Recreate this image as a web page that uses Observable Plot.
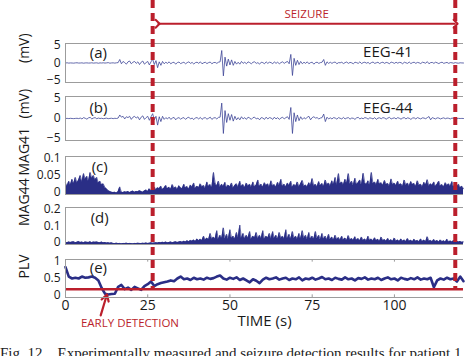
<!DOCTYPE html>
<html><head><meta charset="utf-8">
<script src="https://cdn.jsdelivr.net/npm/d3@7"></script>
<script src="https://cdn.jsdelivr.net/npm/@observablehq/plot@0.6"></script>
<style>
html,body{margin:0;padding:0;background:#fff;}
#fig{position:relative;width:474px;height:356px;overflow:hidden;background:#fff;}
#fig svg{position:absolute;left:0;background:transparent;overflow:visible;}
#caption{position:absolute;left:0;top:346px;font-family:"Liberation Serif",serif;font-size:15px;line-height:15px;white-space:nowrap;color:#222;}
</style></head><body><div id="fig"><div id="caption">Fig. 12.&nbsp;&nbsp;&nbsp;Experimentally measured and seizure detection results for patient 1</div></div>
<script>
// ---------------- data ----------------
const eegStep = 0.5;   // s between samples of EEG / MAG traces
const plvStep = 1;     // s between PLV samples
const xTicks = [0, 25, 50, 75, 100];
const seizureBounds = [26.5, 118.5];
const seizureArrow = [28, 118.6];
const plvThreshold = 0.22;
const earlyDetection = {tTail: 10.7, vTail: -0.47, tHead: 12.6, vHead: 0.08, tText: 19.6, vText: -0.68};

const eeg41 = [
0,0.05,-0.03,0.02,0,-0.04,0.03,0.06,-0.02,0,0.04,-0.05,0.02,0.03,-0.02,0,0.05,-0.03,0.02,0.04,-0.06,0.03,0,0.05,-0.02,0.03,0.1,-0.05,0.02,0.04,-0.03,0.05,0.1,
0.9,-0.2,0.4,0.1,-0.3,0.3,0.5,-0.2,0.2,0.4,-0.1,0.3,-0.4,0.2,0.5,-0.3,0.1,0.4,-0.5,0.3,
1.0,-0.4,0.6,-1.2,0.3,-0.6,0.4,-0.2,
0.2,-0.1,0.3,-0.2,0.1,0.2,-0.3,0.1,0.25,-0.15,0.05,0.2,-0.2,0.1,0.3,-0.1,0.15,-0.25,0.1,0.2,-0.1,0.3,-0.2,0.05,0.2,-0.15,0.1,0.25,-0.2,0.1,0.15,-0.1,0.2,
0.3,3.2,-3.3,1.5,-0.8,1.0,-0.5,0.8,-0.6,0.4,-0.3,
0.2,-0.3,0.4,-0.1,0.2,-0.2,0.3,0.1,-0.2,0.2,0.3,-0.1,0.1,-0.3,0.2,0.1,-0.2,0.3,-0.1,0.2,0.1,-0.2,0.3,-0.1,0.2,-0.2,0.1,0.3,-0.1,0.2,0.4,-0.2,
2.2,-3.2,1.2,-0.6,0.7,-0.4,0.4,-0.2,
0.2,-0.1,0.3,-0.2,0.1,0.2,-0.3,0.1,0.2,-0.1,0.1,0.2,
0.9,-0.6,0.3,-0.1,
0.2,-0.1,0.15,0.25,-0.2,0.1,0.05,0.2,-0.15,0.1,
0.25,-0.1,0.15,0.05,-0.2,0.2,0.1,-0.1,0.3,-0.15,
0.1,0.2,-0.05,0.15,-0.2,0.1,0.25,-0.1,0.05,0.2,
-0.15,0.1,0.2,-0.1,0.15,0.05,-0.2,0.25,0.1,-0.1,
0.2,-0.05,0.15,0.1,-0.2,0.2,0.05,-0.1,0.25,-0.15,
0.1,0.2,-0.1,0.15,0.05,-0.15,0.2,0.1,-0.05,0.35,
-0.2,0.1,0.15,-0.1,0.2,0.05,-0.15,0.1,0.2,-0.1,
0.05,0.15,-0.1,0.1,0.05,-0.05,0.1,0.0,-0.05,0.05,
0.02,0.0];

const eeg44 = [
0,0.03,-0.02,0.04,0,-0.03,0.02,0.05,-0.02,
0.1,-0.1,0.2,0.05,-0.15,0.15,0.25,-0.1,0.1,0.2,-0.05,0.1,0,
0.05,-0.05,0.03,0.08,-0.04,0.02,0.06,-0.03,0.05,0,0.1,
0.8,0.3,0.5,-0.1,0.4,0.2,0.5,-0.2,0.3,0.5,0.1,0.4,-0.3,0.3,0.6,-0.2,0.2,0.5,-0.4,0.4,
1.1,-0.3,0.5,-1.5,0.4,-0.7,0.5,-0.2,
0.2,-0.1,0.3,-0.2,0.1,0.25,-0.3,0.1,0.2,-0.15,0.1,0.2,-0.2,0.15,0.3,-0.1,0.1,-0.25,0.15,0.2,-0.1,0.25,-0.2,0.1,0.2,-0.15,0.05,0.3,-0.2,0.1,0.2,-0.1,0.25,
0.3,3.5,-3.4,1.8,-0.9,1.1,-0.4,0.9,-0.6,0.5,-0.3,
0.2,-0.3,0.4,-0.1,0.2,-0.2,0.3,0.1,-0.2,0.2,0.3,-0.1,0.1,-0.3,0.2,0.1,-0.2,0.3,-0.1,0.2,0.1,-0.2,0.3,-0.1,0.2,-0.2,0.1,0.3,-0.1,0.2,0.4,-0.2,
2.5,-3.4,1.3,-0.7,0.8,-0.5,0.4,-0.2,
0.2,-0.1,0.3,0.5,-0.3,0.2,0.4,0.1,0.2,-0.1,0.1,0.2,
1.0,-0.7,0.3,-0.1,
0.15,-0.1,0.2,0.1,-0.15,0.2,0.05,-0.1,0.25,-0.1,
0.1,0.2,-0.15,0.1,0.05,-0.2,0.15,0.25,-0.1,0.1,
-0.05,0.2,0.1,-0.15,0.15,0.05,-0.1,0.2,-0.2,0.1,
0.15,-0.05,0.2,0.1,-0.15,0.1,0.25,-0.1,0.05,0.15,
-0.1,0.2,0.05,-0.15,0.1,0.2,-0.1,0.15,0.05,-0.2,
0.1,0.15,-0.1,0.2,0.05,-0.1,0.15,0.1,-0.05,0.2,
0.45,-0.3,0.2,0.05,-0.1,0.15,0.1,-0.1,0.05,0.15,
-0.05,0.1,0.05,-0.1,0.1,0.0,0.05,-0.05,0.03,0.0,
0.02,0.0];

const mag41 = [
0.03,0.022,0.035,0.025,0.04,0.028,0.045,0.03,0.038,0.05,0.032,0.055,0.04,0.048,0.035,0.058,0.042,0.05,0.038,0.045,0.03,
0.035,0.025,0.028,0.018,0.015,0.01,0.008,0.006,
0.005,0.006,0.004,0.007,0.02,0.006,0.005,0.007,0.006,0.008,0.005,0.007,0.009,0.006,0.008,0.007,0.01,0.008,0.006,0.009,0.012,0.008,0.015,0.01,
0.014,0.02,0.012,0.018,0.015,0.022,0.013,0.017,0.024,0.015,
0.019,0.014,0.026,0.016,0.02,0.013,0.023,0.018,0.015,0.027,
0.017,0.021,0.014,0.025,0.019,0.03,0.016,0.022,0.018,0.028,
0.02,0.024,0.016,0.033,0.021,0.026,0.018,0.058,0.03,0.022,
0.035,0.019,0.027,0.021,0.032,0.018,0.025,0.02,0.03,0.017,
0.024,0.028,0.019,0.035,0.021,0.026,0.018,0.03,0.022,0.027,
0.019,0.033,0.02,0.025,0.038,0.021,0.027,0.019,0.031,0.023,
0.028,0.02,0.036,0.022,0.026,0.019,0.032,0.024,0.04,0.021,
0.027,0.02,0.03,0.023,0.035,0.019,0.026,0.022,0.033,0.02,
0.028,0.037,0.021,0.025,0.02,0.031,0.024,0.042,0.022,0.027,
0.02,0.034,0.023,0.029,0.021,0.038,0.025,0.03,0.022,0.036,
0.026,0.045,0.024,0.055,0.028,0.033,0.025,0.04,0.029,0.055,
0.027,0.035,0.024,0.043,0.026,0.031,0.038,0.025,0.056,0.03,
0.026,0.036,0.024,0.058,0.028,0.033,0.025,0.04,0.027,0.031,
0.024,0.037,0.026,0.029,0.022,0.041,0.025,0.03,0.023,0.035,
0.025,0.028,0.021,0.038,0.024,0.03,0.022,0.034,0.026,0.029,
0.021,0.036,0.024,0.027,0.02,0.032,0.025,0.039,0.022,0.028,
0.024,0.033,0.021,0.027,0.035,0.022,0.026,0.02,0.031,0.023,
0.028,0.021,0.034,0.02,0.025,0.019,0.027,0.018,0.022,0.015];

const mag44 = [
0.012,0.01,0.014,0.011,0.013,0.015,0.01,0.012,0.016,0.011,0.013,0.01,0.014,0.012,0.011,0.015,0.01,0.013,0.012,0.014,0.011,0.01,0.013,0.009,0.011,0.008,0.01,0.007,0.009,
0.006,0.005,0.007,0.005,0.006,0.004,0.006,0.005,0.007,0.005,0.006,0.005,0.004,0.006,0.005,0.007,0.006,0.005,0.007,0.006,0.008,0.006,0.007,0.009,0.007,0.008,
0.01,0.008,0.011,0.009,0.012,0.01,0.013,0.009,0.011,0.014,0.01,0.012,0.015,0.011,0.013,0.016,0.012,0.018,0.014,0.02,0.015,0.022,
0.018,0.025,0.016,0.03,0.02,0.028,0.022,0.045,0.024,0.035,
0.026,0.06,0.028,0.04,0.03,0.075,0.027,0.05,0.032,0.09,
0.03,0.055,0.028,0.08,0.033,0.045,0.029,0.065,0.035,0.105,
0.032,0.06,0.03,0.05,0.034,0.07,0.029,0.045,0.036,0.065,
0.03,0.05,0.033,0.075,0.028,0.045,0.035,0.06,0.03,0.07,
0.032,0.05,0.028,0.065,0.034,0.045,0.03,0.08,0.031,0.055,
0.029,0.07,0.033,0.045,0.028,0.06,0.03,0.075,0.032,0.05,
0.027,0.065,0.03,0.045,0.028,0.07,0.031,0.05,0.026,0.06,
0.028,0.045,0.025,0.055,0.027,0.04,0.024,0.05,0.026,0.038,
0.023,0.045,0.025,0.035,0.022,0.048,0.024,0.033,0.021,0.042,
0.023,0.032,0.02,0.04,0.022,0.03,0.019,0.045,0.021,0.03,
0.019,0.036,0.021,0.028,0.018,0.04,0.02,0.027,0.017,0.033,
0.019,0.026,0.017,0.035,0.018,0.025,0.016,0.03,0.018,0.024,
0.016,0.032,0.017,0.023,0.015,0.028,0.017,0.022,0.015,0.03,
0.016,0.024,0.015,0.042,0.017,0.022,0.015,0.027,0.016,0.021,
0.014,0.025,0.015,0.02,0.013,0.028,0.014,0.019,0.013,0.022,
0.012,0.018,0.013,0.016,0.012,0.014];

const plv = [
0.8,0.55,0.5,0.52,0.5,0.55,0.52,0.53,0.55,0.52,0.45,0.25,0.1,0.08,0.09,0.1,0.28,0.33,0.22,0.26,0.2,0.28,0.24,0.2,0.3,0.35,0.42,0.3,0.35,0.38,
0.4,0.42,0.45,0.43,0.5,0.55,0.48,0.5,0.46,0.52,0.48,0.5,0.47,0.52,0.49,0.51,0.55,0.58,0.5,0.47,0.52,0.49,0.53,0.46,0.5,0.45,0.4,0.48,0.44,0.38,
0.47,0.52,0.48,0.5,0.53,0.47,0.5,0.52,0.46,0.5,0.48,0.53,0.45,0.5,0.48,0.52,0.47,0.5,0.54,0.48,0.5,0.46,0.52,0.49,0.47,0.53,0.48,0.5,0.45,0.51,
0.49,0.53,0.47,0.5,0.48,0.52,0.46,0.5,0.53,0.48,0.5,0.45,0.52,0.49,0.47,0.51,0.48,0.53,0.47,0.5,0.48,0.52,0.27,0.45,0.5,0.47,0.52,0.48,0.5,0.42,
0.55,0.43];

// ---------------- layout / style ----------------
const W = 474, ML = 65, MR = 11;
const xDomain = [0, 121];
const FONT = '"Open Sans", sans-serif';
const NAVY = "#2a2e86", EEGC = "#3d4597", RED = "#bb1f2c", FRAME = "#9c9c9c", INK = "#1a1a1a";
const fig = document.getElementById("fig");
const fmt = d => d < 0 ? "\u2212" + (-d) : String(d);
const tEEG = (d, i) => i * eegStep;
const tPLV = (d, i) => i * plvStep;

function panel({frameTop, frameH, mt = 10, mb = 10, yDomain, yTicks, yTitle, label, labelPos, marks, xAxis = false}) {
  const [y0, y1] = yDomain;
  const tickLen = (y1 - y0) * 0.07;
  const yAxisOpts = {tickSize: 0, tickPadding: 5, tickFormat: fmt, label: null, fontSize: 12};
  const svg = Plot.plot({
    width: W, height: frameH + mt + mb,
    marginLeft: ML, marginRight: MR, marginTop: mt, marginBottom: mb,
    x: xAxis ? {domain: xDomain} : {domain: xDomain, axis: null},
    y: {domain: yDomain},
    style: {background: "transparent", fontFamily: FONT, fontSize: "12px", color: INK, overflow: "visible"},
    marks: [
      ...marks,
      // box: top, bottom and left edges
      Plot.ruleY([y0, y1], {stroke: FRAME, strokeWidth: 1}),
      Plot.ruleX([xDomain[0]], {stroke: FRAME, strokeWidth: 1}),
      // y tick labels; the end labels are nudged inward so neighbouring panels do not collide
      Plot.axisY({...yAxisOpts, ticks: [yTicks[0]], dy: -2}),
      Plot.axisY({...yAxisOpts, ticks: yTicks.slice(1, -1)}),
      Plot.axisY({...yAxisOpts, ticks: [yTicks[yTicks.length - 1]], dy: 2}),
      Plot.text([yTitle], {frameAnchor: "left", dx: -41, rotate: -90, fontSize: 14, fill: INK}),
      Plot.text([label], {x: labelPos[0], y: labelPos[1], fontSize: 15, fill: INK}),
      ...(xAxis ? [
        Plot.axisX({ticks: xTicks, tickSize: 0, tickPadding: 3, label: null, fontSize: 14}),
        Plot.ruleX(xTicks.slice(1), {y1: y1, y2: y1 - tickLen, stroke: FRAME}),
        Plot.ruleX(xTicks.slice(1), {y1: y0, y2: y0 + tickLen, stroke: FRAME}),
        Plot.text(["TIME (s)"], {frameAnchor: "bottom", dy: 28, fontSize: 15, fill: INK})
      ] : [])
    ]
  });
  svg.style.top = (frameTop - mt) + "px";
  fig.appendChild(svg);
}

// (a) EEG-41
panel({frameTop: 43, frameH: 39, yDomain: [-5, 5], yTicks: [-5, 0, 5], yTitle: "(mV)", label: "(a)", labelPos: [10, 2.4],
  marks: [
    Plot.lineY(eeg41, {x: tEEG, y: d => d, stroke: EEGC, strokeWidth: 0.8}),
    Plot.text(["EEG-41"], {x: 98, y: 2.7, fontSize: 15, fill: INK})
  ]});
// (b) EEG-44
panel({frameTop: 96, frameH: 44, yDomain: [-5, 5], yTicks: [-5, 0, 5], yTitle: "(mV)", label: "(b)", labelPos: [10, 2.3],
  marks: [
    Plot.lineY(eeg44, {x: tEEG, y: d => d, stroke: EEGC, strokeWidth: 0.8}),
    Plot.text(["EEG-44"], {x: 98, y: 2.3, fontSize: 15, fill: INK})
  ]});
// (c) MAG41
panel({frameTop: 156, frameH: 38, yDomain: [0, 0.1], yTicks: [0, 0.05, 0.1], yTitle: "MAG41", label: "(c)", labelPos: [10.4, 0.071],
  marks: [
    Plot.areaY(mag41, {x: tEEG, y: d => d, fill: NAVY}),
    Plot.lineY(mag41, {x: tEEG, y: d => d, stroke: NAVY, strokeWidth: 0.7})
  ]});
// (d) MAG44
panel({frameTop: 207, frameH: 37, yDomain: [0, 0.2], yTicks: [0, 0.1, 0.2], yTitle: "MAG44", label: "(d)", labelPos: [10.4, 0.14],
  marks: [
    Plot.areaY(mag44, {x: tEEG, y: d => d, fill: NAVY}),
    Plot.lineY(mag44, {x: tEEG, y: d => d, stroke: NAVY, strokeWidth: 0.7})
  ]});
// (e) PLV
panel({frameTop: 259, frameH: 38, mb: 59, yDomain: [0, 1], yTicks: [0, 0.5, 1], yTitle: "PLV", label: "(e)", labelPos: [10, 0.76], xAxis: true,
  marks: [
    Plot.lineY(plv, {x: tPLV, y: d => d, stroke: NAVY, strokeWidth: 2.6}),
    Plot.ruleY([plvThreshold], {stroke: RED, strokeWidth: 2.5}),
    Plot.arrow([earlyDetection], {x1: "tTail", y1: "vTail", x2: "tHead", y2: "vHead", stroke: RED, strokeWidth: 2.2, headLength: 9}),
    Plot.text(["EARLY DETECTION"], {x: earlyDetection.tText, y: earlyDetection.vText, fill: RED, fontSize: 11.5})
  ]});

// overlay: seizure interval
const overlay = Plot.plot({
  width: W, height: 356, marginLeft: ML, marginRight: MR, marginTop: 0, marginBottom: 66,
  x: {domain: xDomain, axis: null}, y: {domain: [0, 1], axis: null},
  style: {background: "transparent", fontFamily: FONT, overflow: "visible"},
  marks: [
    Plot.ruleX(seizureBounds, {stroke: RED, strokeWidth: 4, strokeDasharray: "8,5"}),
    Plot.link([seizureArrow], {x1: d => d[0], x2: d => d[1], y1: 0.92, y2: 0.92, stroke: RED, strokeWidth: 2, markerStart: "arrow", markerEnd: "arrow"}),
    Plot.text(["SEIZURE"], {x: (seizureArrow[0] + seizureArrow[1]) / 2, y: 0.952, fill: RED, fontSize: 11.5})
  ]
});
overlay.style.top = "0px";
fig.appendChild(overlay);
fig.appendChild(document.getElementById("caption"));
</script>
</body></html>
